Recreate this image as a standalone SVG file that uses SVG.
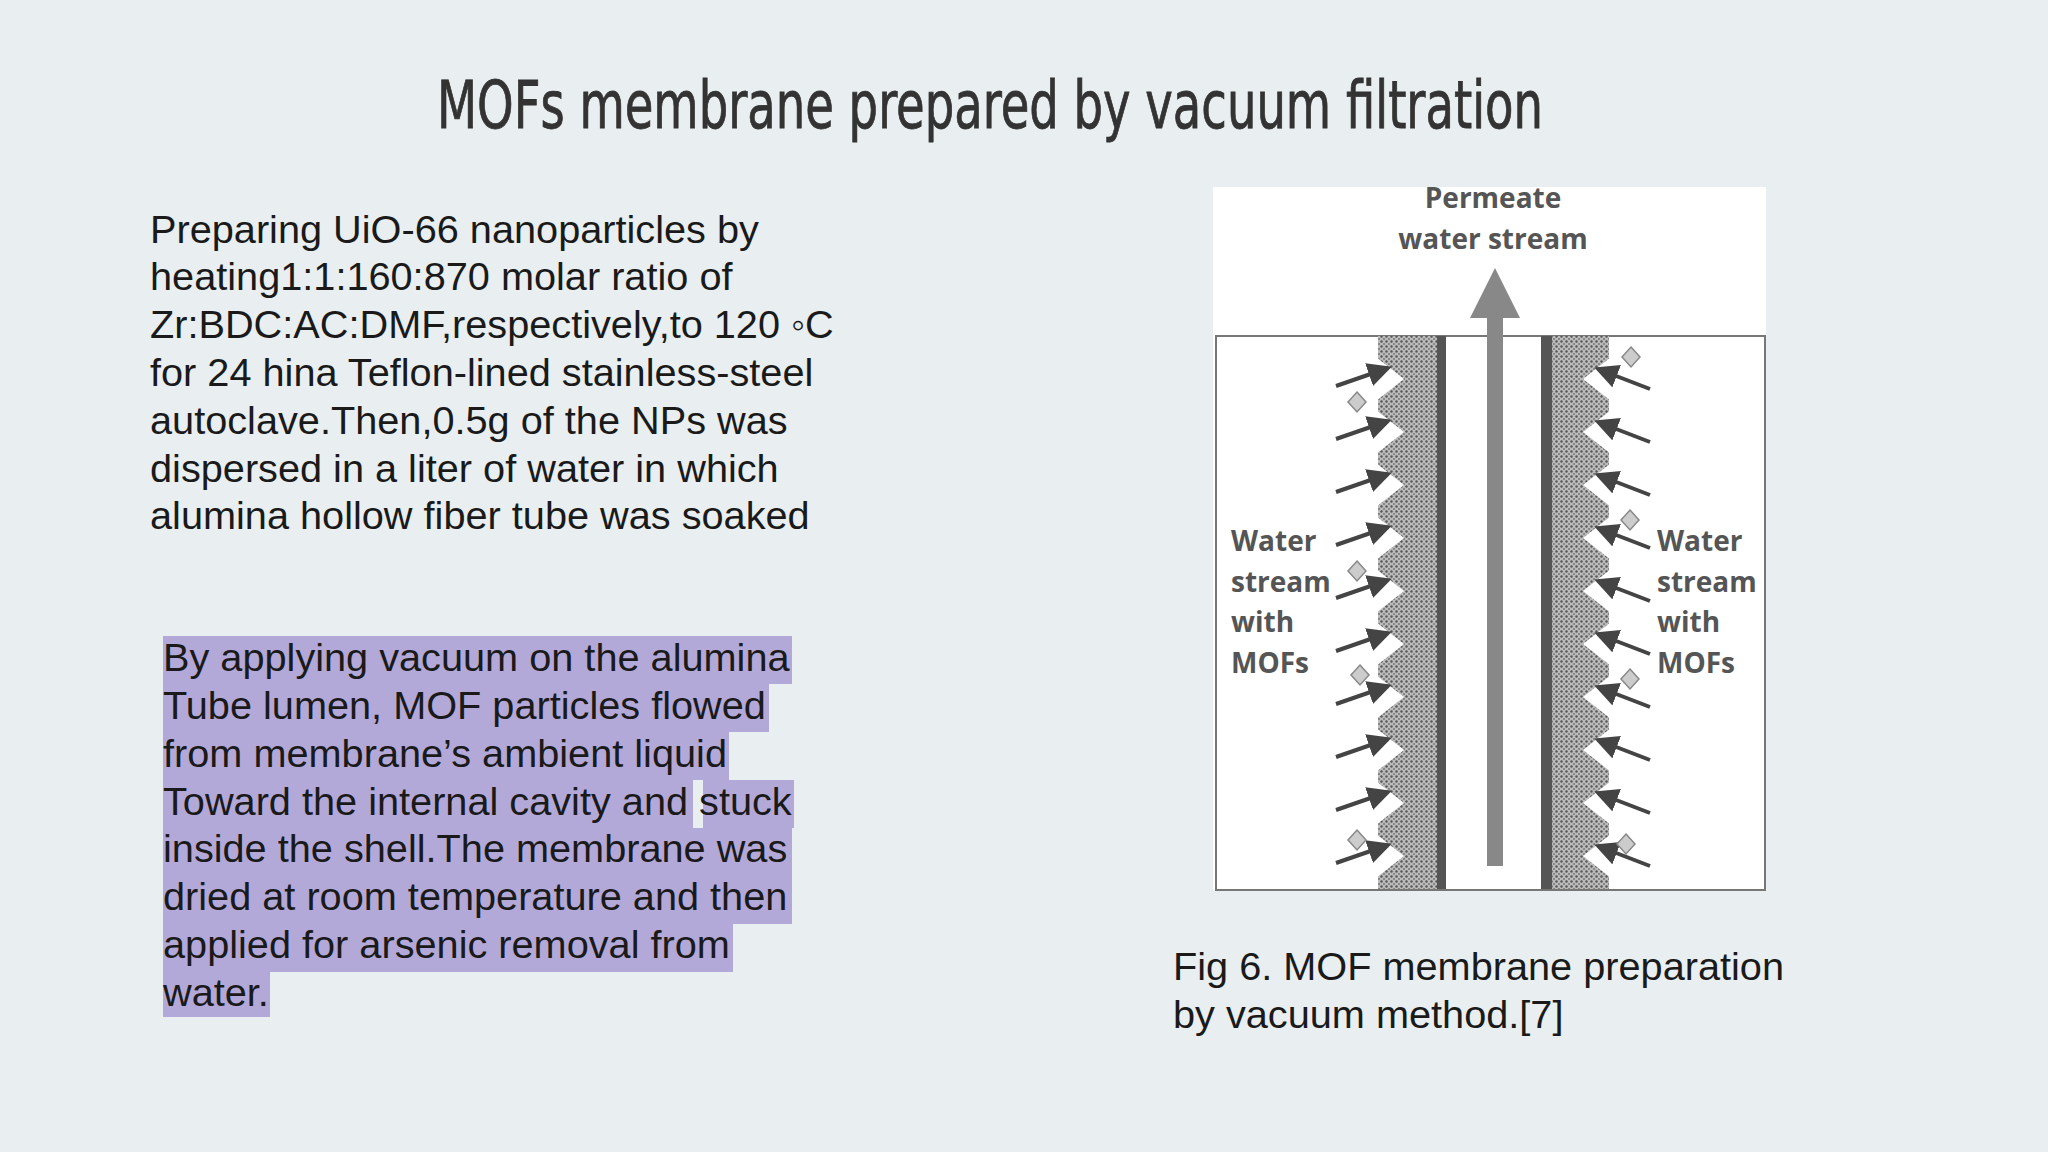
<svg xmlns="http://www.w3.org/2000/svg" width="2048" height="1152" viewBox="0 0 2048 1152">
<defs>
<style>
.t{font-family:"Liberation Sans",Arial,sans-serif;font-size:39.7px;fill:#1a1a1a}
.f{font-family:"Open Sans","DejaVu Sans",sans-serif;font-weight:bold;font-size:28px;fill:#555}
.a{stroke:#444;stroke-width:4;marker-end:url(#ah)}
.hl{fill:#b3a9d9}
</style>
<marker id="ah" markerWidth="6" markerHeight="6" refX="5" refY="3" orient="auto"><path d="M0,0L6,3L0,6z" fill="#444"/></marker>
<pattern id="hp" width="5" height="5" patternUnits="userSpaceOnUse"><rect width="5" height="5" fill="#bbb"/><circle cx="1.5" cy="1.5" r="1.2" fill="#555"/><circle cx="4" cy="4" r="1" fill="#777"/></pattern>
<polygon id="dm" points="0,-10 9,0 0,10 -9,0" fill="#ccc" stroke="#888" stroke-width="1.5"/>
</defs>
<rect width="2048" height="1152" fill="#e9eff0"/>
<text x="990" y="128" text-anchor="middle" font-family="DejaVu Sans Condensed,DejaVu Sans,sans-serif" font-size="66" fill="#333" stroke="#333" stroke-width="0.8" textLength="1106" lengthAdjust="spacingAndGlyphs">MOFs membrane prepared by vacuum filtration</text>
<g id="para1">
<text class="t" x="150" y="243">Preparing UiO-66 nanoparticles by</text>
<text class="t" x="150" y="290">heating1:1:160:870 molar ratio of</text>
<text class="t" x="150" y="338">Zr:BDC:AC:DMF,respectively,to 120 ◦C</text>
<text class="t" x="150" y="386">for 24 hina Teflon-lined stainless-steel</text>
<text class="t" x="150" y="434">autoclave.Then,0.5g of the NPs was</text>
<text class="t" x="150" y="482">dispersed in a liter of water in which</text>
<text class="t" x="150" y="529">alumina hollow fiber tube was soaked</text>
</g>
<g id="para2">
<rect class="hl" x="163" y="636" width="629" height="48"/>
<rect class="hl" x="163" y="684" width="606" height="48"/>
<rect class="hl" x="163" y="732" width="566" height="48"/>
<rect class="hl" x="163" y="780" width="530" height="48"/>
<rect class="hl" x="703" y="780" width="91" height="48"/>
<rect class="hl" x="163" y="828" width="629" height="48"/>
<rect class="hl" x="163" y="876" width="629" height="48"/>
<rect class="hl" x="163" y="924" width="570" height="48"/>
<rect class="hl" x="163" y="972" width="107" height="45"/>
<text class="t" x="163" y="671">By applying vacuum on the alumina</text>
<text class="t" x="163" y="719">Tube lumen, MOF particles flowed</text>
<text class="t" x="163" y="767">from membrane’s ambient liquid</text>
<text class="t" x="163" y="815">Toward the internal cavity and stuck</text>
<text class="t" x="163" y="862">inside the shell.The membrane was</text>
<text class="t" x="163" y="910">dried at room temperature and then</text>
<text class="t" x="163" y="958">applied for arsenic removal from</text>
<text class="t" x="163" y="1006">water.</text>
</g>
<g id="figure">
<rect x="1213" y="187" width="553" height="704" fill="#fff"/>
<rect x="1216" y="336" width="549" height="554" fill="none" stroke="#777" stroke-width="2"/>
<rect x="1378" y="336" width="59" height="553" fill="url(#hp)"/>
<rect x="1437" y="336" width="9" height="553" fill="#555"/>
<rect x="1541" y="336" width="11" height="553" fill="#555"/>
<rect x="1552" y="336" width="57" height="553" fill="url(#hp)"/>
<g fill="#fff">
<path d="M1376,357 L1404,379 L1376,401Z"/><path d="M1376,410 L1404,432 L1376,454Z"/><path d="M1376,463 L1404,485 L1376,507Z"/><path d="M1376,516 L1404,538 L1376,560Z"/><path d="M1376,569 L1404,591 L1376,613Z"/><path d="M1376,622 L1404,644 L1376,666Z"/><path d="M1376,675 L1404,697 L1376,719Z"/><path d="M1376,728 L1404,750 L1376,772Z"/><path d="M1376,781 L1404,803 L1376,825Z"/><path d="M1376,834 L1404,856 L1376,878Z"/>
<path d="M1611,357 L1583,379 L1611,401Z"/><path d="M1611,410 L1583,432 L1611,454Z"/><path d="M1611,463 L1583,485 L1611,507Z"/><path d="M1611,516 L1583,538 L1611,560Z"/><path d="M1611,569 L1583,591 L1611,613Z"/><path d="M1611,622 L1583,644 L1611,666Z"/><path d="M1611,675 L1583,697 L1611,719Z"/><path d="M1611,728 L1583,750 L1611,772Z"/><path d="M1611,781 L1583,803 L1611,825Z"/><path d="M1611,834 L1583,856 L1611,878Z"/>
</g>
<rect x="1487" y="300" width="16" height="566" fill="#888"/>
<polygon points="1495,268 1520,318 1470,318" fill="#888"/>
<g id="connectors">
<line class="a" x1="1336" y1="386" x2="1388" y2="368"/><line class="a" x1="1336" y1="439" x2="1388" y2="421"/><line class="a" x1="1336" y1="492" x2="1388" y2="474"/><line class="a" x1="1336" y1="545" x2="1388" y2="527"/><line class="a" x1="1336" y1="598" x2="1388" y2="580"/><line class="a" x1="1336" y1="651" x2="1388" y2="633"/><line class="a" x1="1336" y1="704" x2="1388" y2="686"/><line class="a" x1="1336" y1="757" x2="1388" y2="739"/><line class="a" x1="1336" y1="810" x2="1388" y2="792"/><line class="a" x1="1336" y1="863" x2="1388" y2="845"/>
<line class="a" x1="1650" y1="389" x2="1598" y2="369"/><line class="a" x1="1650" y1="442" x2="1598" y2="422"/><line class="a" x1="1650" y1="495" x2="1598" y2="475"/><line class="a" x1="1650" y1="548" x2="1598" y2="528"/><line class="a" x1="1650" y1="601" x2="1598" y2="581"/><line class="a" x1="1650" y1="654" x2="1598" y2="634"/><line class="a" x1="1650" y1="707" x2="1598" y2="687"/><line class="a" x1="1650" y1="760" x2="1598" y2="740"/><line class="a" x1="1650" y1="813" x2="1598" y2="793"/><line class="a" x1="1650" y1="866" x2="1598" y2="846"/>
</g>
<use href="#dm" x="1357" y="402"/><use href="#dm" x="1357" y="571"/><use href="#dm" x="1360" y="675"/><use href="#dm" x="1357" y="840"/>
<use href="#dm" x="1631" y="357"/><use href="#dm" x="1630" y="520"/><use href="#dm" x="1630" y="679"/><use href="#dm" x="1626" y="844"/>
<text class="f" x="1493" y="208" text-anchor="middle">Permeate</text>
<text class="f" x="1493" y="249" text-anchor="middle">water stream</text>
<text class="f" x="1231" y="551">Water</text><text class="f" x="1231" y="592">stream</text><text class="f" x="1231" y="632">with</text><text class="f" x="1231" y="673">MOFs</text>
<text class="f" x="1657" y="551">Water</text><text class="f" x="1657" y="592">stream</text><text class="f" x="1657" y="632">with</text><text class="f" x="1657" y="673">MOFs</text>
</g>
<g id="caption">
<text class="t" x="1173" y="980">Fig 6. MOF membrane preparation</text>
<text class="t" x="1173" y="1028">by vacuum method.[7]</text>
</g>
</svg>
